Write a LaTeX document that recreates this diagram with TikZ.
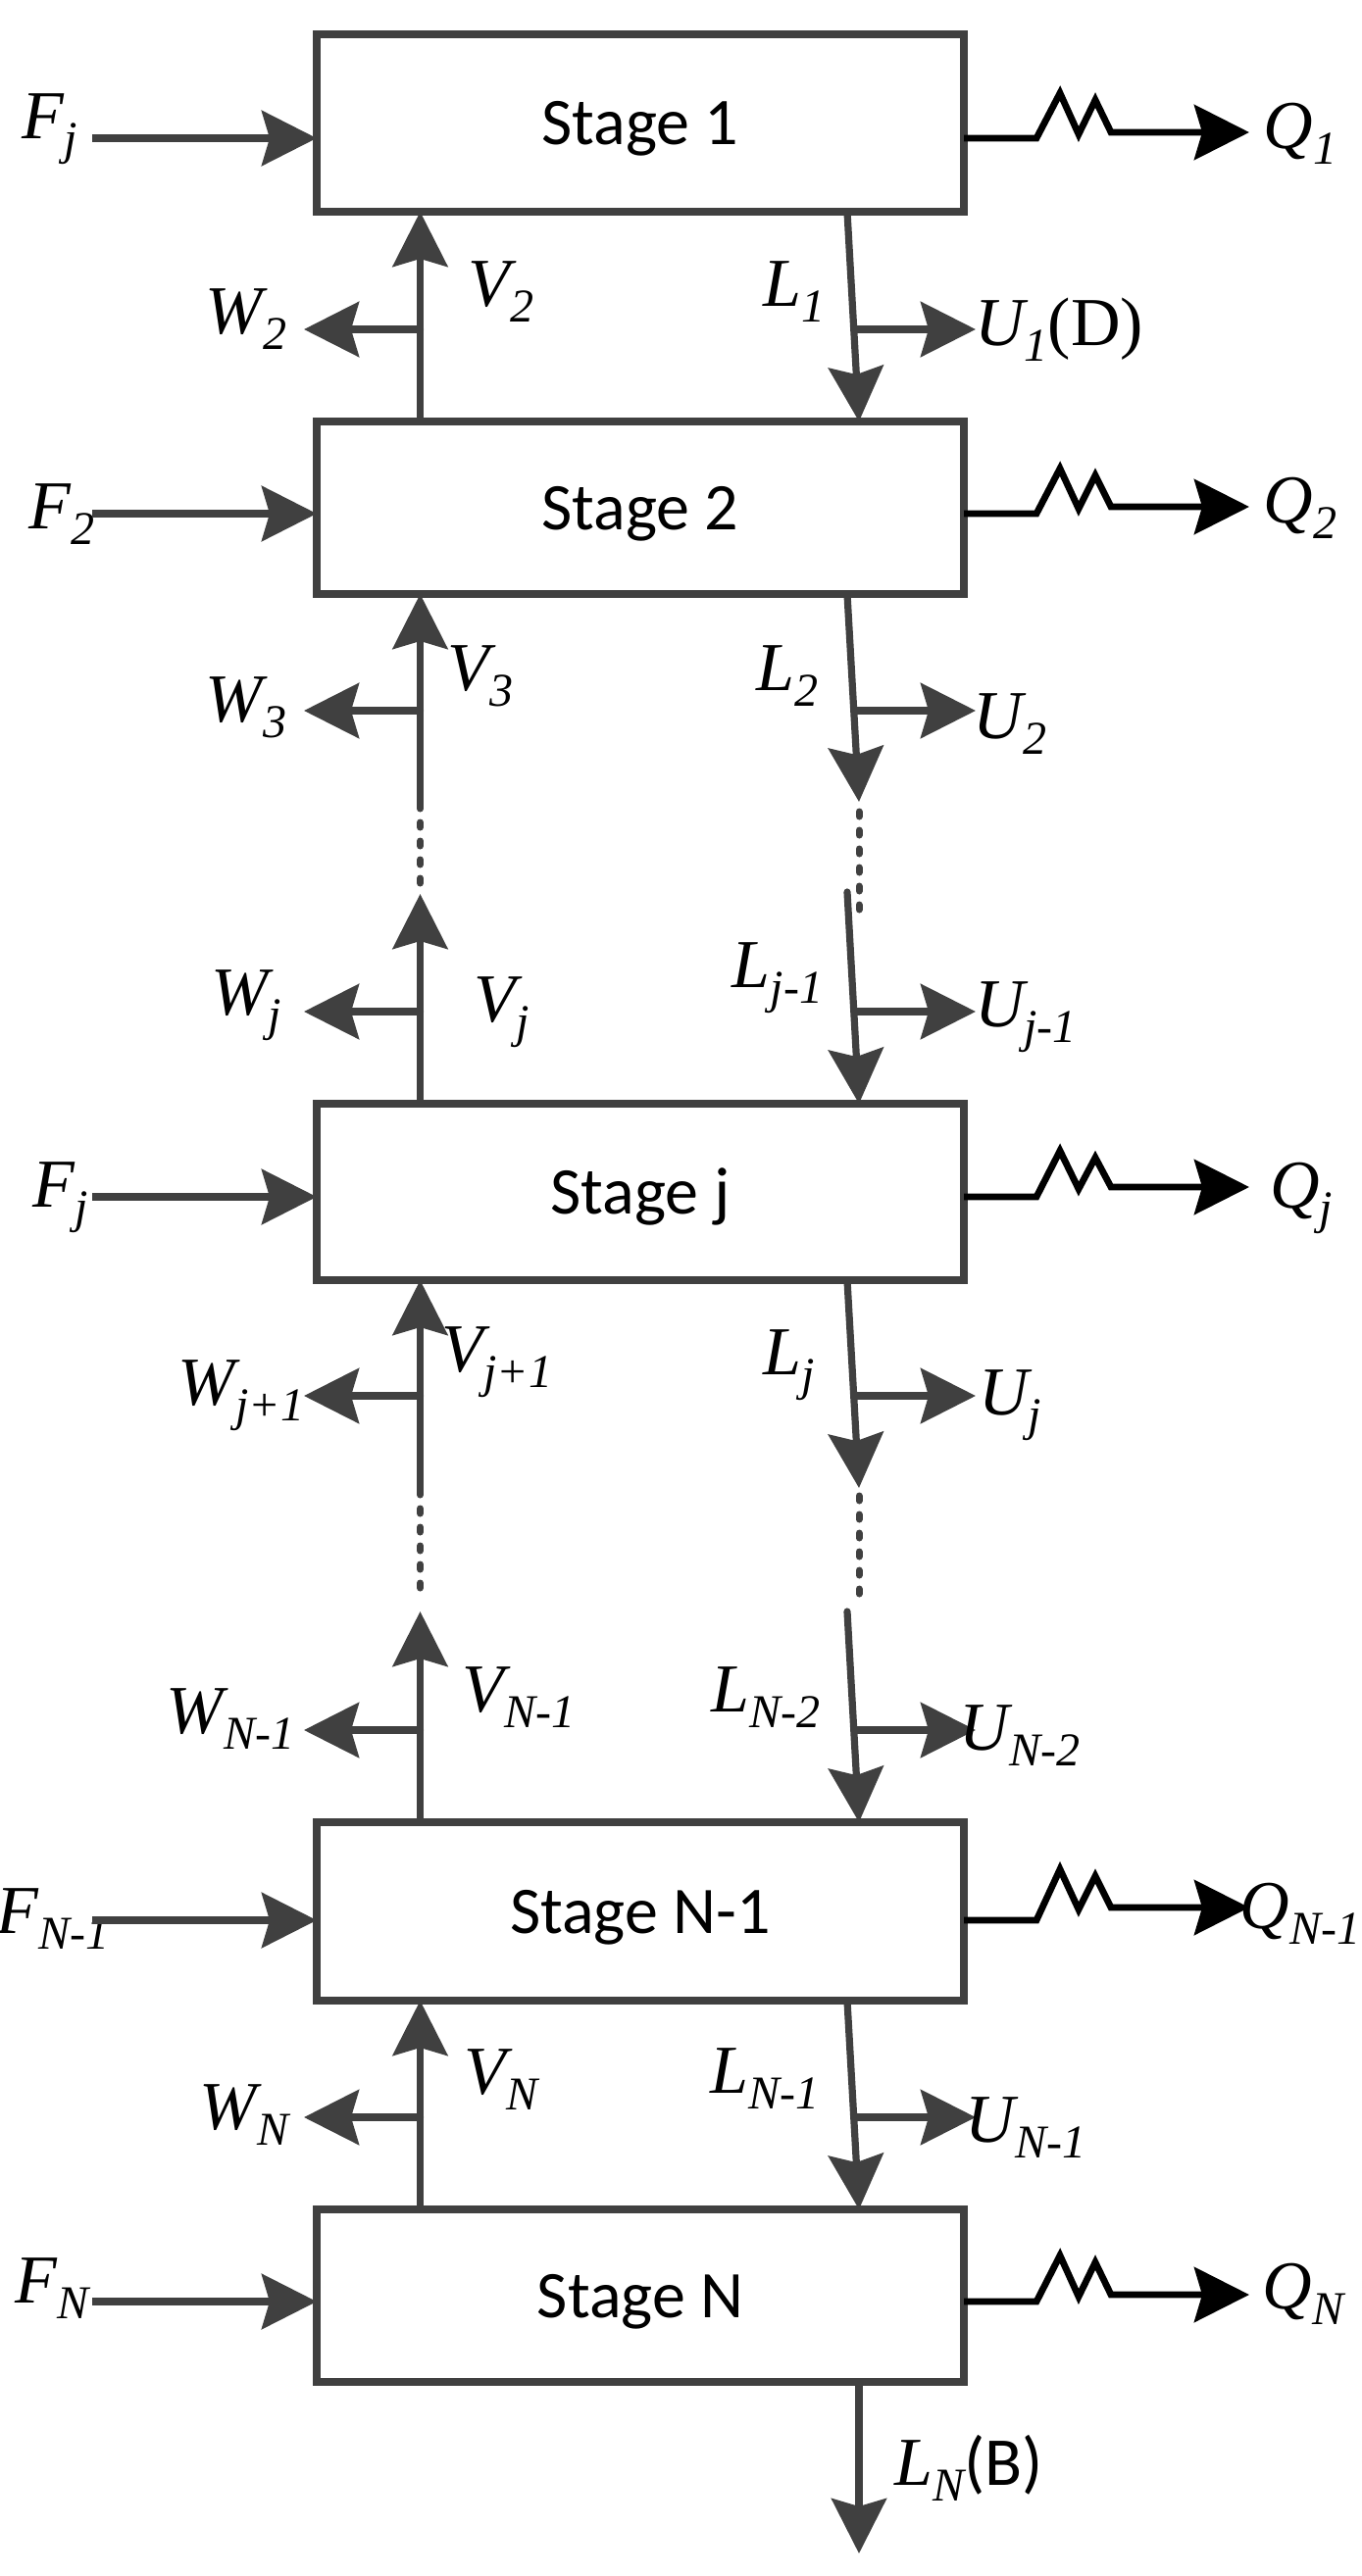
\documentclass[tikz,border=0pt]{standalone}
\usepackage{fontspec}
\setmainfont{Liberation Serif}
\newfontfamily\stagefont{Carlito}
\usetikzlibrary{arrows.meta}

\newcommand{\lblsize}{\fontsize{35}{40}\selectfont}
\newcommand{\subsize}{\fontsize{24}{28}\selectfont}
% italic letter with a lowered index
\newcommand{\flow}[2]{{\lblsize\itshape #1\raisebox{-8pt}{\subsize #2}}}

\tikzset{
    stagebox/.style={draw=boxgray, line width=3.6pt, outer sep=0pt, minimum width=330pt,
        text height=22pt, text depth=0pt, font=\stagefont\fontsize{34}{38}\selectfont},
    tag/.style={inner sep=0pt},
    feed/.style={draw=boxgray, line width=3.8pt, -{Stealth[length=28pt,width=28pt,inset=4pt]}},
    stream/.style={draw=boxgray, line width=3.6pt, line cap=round, -{Stealth[length=28pt,width=28pt,inset=4pt]}},
    heat/.style={draw=black, line width=3.4pt, -{Stealth[length=28pt,width=28pt,inset=4pt]}},
    gap/.style={draw=boxgray, line width=3.5pt, line cap=round, dash pattern=on 2.5pt off 7pt},
}
\definecolor{boxgray}{HTML}{404040}

\begin{document}
\begin{tikzpicture}[x=0.5pt,y=-0.5pt]
    \useasboundingbox (0,0) rectangle (1388,2628);

    \node[stagebox, minimum height=90.5pt] (s1) at (653,125.5) {Stage 1};
    \node[stagebox, minimum height=88pt] (s2) at (653,518) {Stage 2};
    \node[stagebox, minimum height=90pt] (sj) at (653,1216) {Stage j};
    \node[stagebox, minimum height=91pt] (sm) at (653,1950) {Stage N-1};
    \node[stagebox, minimum height=88pt] (sn) at (653,2342) {Stage N};

    \coordinate (vx) at (428.5,0);
    \coordinate (lx) at (864,0);
    \coordinate (rx) at (876,0);

    % feeds and heat duties
    \foreach \st/\y/\ya/\top/\lf/\lfx/\lfy/\lq/\lqx/\lqy in {
        s1/141/135/95/{\flow{F}{j}}/51/132/{\flow{Q}{1}}/1326/136,
        s2/524/517/478/{\flow{F}{2}}/63/525/{\flow{Q}{2}}/1326/518,
        sj/1221/1211/1174/{\flow{F}{j}}/62/1222/{\flow{Q}{j}}/1327/1222,
        sm/1959/1946/1907/{\flow{F}{N-1}}/54/1958/{\flow{Q}{N-1}}/1326/1952,
        sn/2348/2341/2301/{\flow{F}{N}}/53/2335/{\flow{Q}{N}}/1329/2340} {
        \node[tag] (f\st) at (\lfx,\lfy) {\lf};
        \node[tag] (q\st) at (\lqx,\lqy) {\lq};
        \coordinate (fs\st) at (94,\y);
        \coordinate (qs\st) at (1274,\ya);
        \draw[feed] (fs\st) -- (fs\st -| \st.west);
        \draw[heat] (\st.east |- fs\st) -- (1057,\y) -- (1081,\top) -- (1100,\ya+2)
            -- (1117,\top+7) -- (1133,\ya) -- (qs\st);
    }

    % vapour and liquid between neighbouring stages
    \foreach \lo/\hi in {s2/s1, sn/sm} {
        \draw[stream] (\lo.north -| vx) -- (\hi.south -| vx);
    }
    \foreach \hi/\lo in {s1/s2, sm/sn} {
        \draw[stream] (\hi.south -| lx) -- (\lo.north -| rx);
    }

    % the parts broken by dots
    \foreach \hi/\lo/\va/\vd/\vb/\la/\ls/\ld/\lb in {
        s2/sj/820/903/912/818/828/928/910,
        sj/sm/1520/1634/1644/1518/1526/1630/1644} {
        \coordinate (vtop) at (428.5,\vd);
        \coordinate (vlow) at (428.5,\va);
        \coordinate (vtip) at (428.5,\vb);
        \coordinate (ltip) at (876,\la);
        \coordinate (lgap) at (876,\ls);
        \coordinate (lend) at (876,\ld);
        \coordinate (lbeg) at (864,\lb);
        \draw[stream] (\lo.north -| vx) -- (vtip);
        \draw[stream] (vlow) -- (\hi.south -| vx);
        \draw[gap] (vlow) -- (vtop);
        \draw[stream] (\hi.south -| lx) -- (ltip);
        \draw[stream] (lbeg) -- (\lo.north -| rx);
        \draw[gap] (lgap) -- (lend);
    }
    \coordinate (lnend) at (876,2605);
    \draw[stream] (sn.south -| rx) -- (lnend);

    % side draws
    \foreach \id/\y in {2/336, 3/725, j/1032, k/1424, m/1765, n/2160} {
        \coordinate (w\id) at (310,\y);
        \coordinate (u\id) at (995,\y);
        \draw[stream] (vx |- w\id) -- (w\id);
        \draw[stream] (874,\y) -- (u\id);
    }

    \foreach \lbl/\x/\y in {
        {\flow{W}{2}}/251/326, {\flow{W}{3}}/251/722, {\flow{W}{j}}/251/1026,
        {\flow{W}{j+1}}/246/1424, {\flow{W}{N-1}}/235/1754, {\flow{W}{N}}/249/2158,
        {\flow{V}{2}}/511/298, {\flow{V}{3}}/490/690, {\flow{V}{j}}/512/1033,
        {\flow{V}{j+1}}/507/1390, {\flow{V}{N-1}}/529/1732, {\flow{V}{N}}/511/2122,
        {\flow{L}{1}}/810/298, {\flow{L}{2}}/803/690, {\flow{L}{j-1}}/793/998,
        {\flow{L}{j}}/805/1393, {\flow{L}{N-2}}/781/1732, {\flow{L}{N-1}}/780/2121,
        {\flow{U}{2}}/1030/739, {\flow{U}{j-1}}/1046/1038, {\flow{U}{j}}/1030/1434,
        {\flow{U}{N-2}}/1040/1771, {\flow{U}{N-1}}/1046/2171} {
        \node[tag] at (\x,\y) {\lbl};
    }
    \node[tag, anchor=west] (ud) at (994,336) {\flow{U}{1}{\lblsize (D)}};
    \node[tag] (lb) at (988,2518) {\flow{L}{N}{\stagefont\lblsize (B)}};
\end{tikzpicture}
\end{document}
